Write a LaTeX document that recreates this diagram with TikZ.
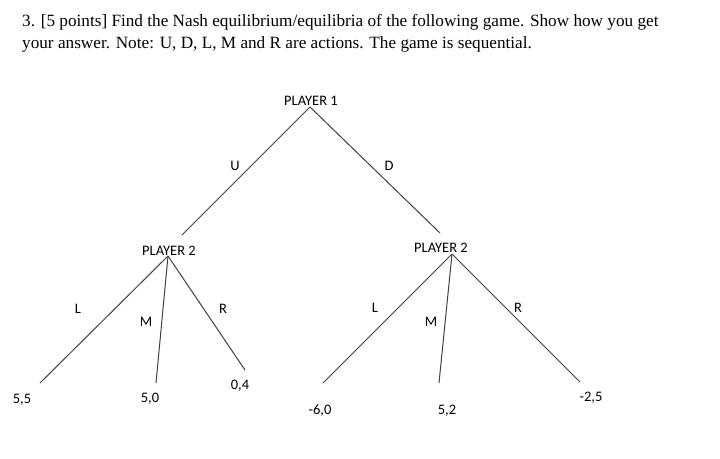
\documentclass[tikz,border=0pt]{standalone}
\usepackage{fontspec}
\setmainfont{Liberation Serif}
\newfontfamily\carlitofont{Carlito}
\begin{document}
\begin{tikzpicture}[x=1pt,y=-1pt,
  lab/.style={font=\carlitofont\fontsize{14.5}{16}\selectfont, inner sep=0pt},
  edge/.style={draw=black!75, line width=1pt},
  head/.style={font=\fontsize{17.2}{20}\selectfont, anchor=west, inner sep=0pt}]
\useasboundingbox[fill=white] (0,0) rectangle (720,458);
\node[head] (h1) at (22,22) {3. [5 points] Find the Nash equilibrium/equilibria of the following game. Show how you get};
\node[head] (h2) at (22,44) {your answer. Note: U, D, L, M and R are actions. The game is sequential.};
\coordinate (r) at (310,107);
\coordinate (a) at (168,256);
\coordinate (b) at (452,254);
\coordinate (ue) at (182,235);
\coordinate (de) at (440,233);
\coordinate (l1) at (40,383);
\coordinate (m1) at (156,383);
\coordinate (r1) at (245,370);
\coordinate (l2) at (323,383);
\coordinate (m2) at (439,383);
\coordinate (r2) at (580,382);
\draw[edge] (r) -- (ue);
\draw[edge] (r) -- (de);
\draw[edge] (a) -- (l1);
\draw[edge] (a) -- (m1);
\draw[edge] (a) -- (r1);
\draw[edge] (b) -- (l2);
\draw[edge] (b) -- (m2);
\draw[edge] (b) -- (r2);
\node[lab] (p1) at (311,101) {PLAYER 1};
\node[lab] (p2a) at (169,251) {PLAYER 2};
\node[lab] (p2b) at (441,248) {PLAYER 2};
\node[lab] (U) at (235,166) {U};
\node[lab] (D) at (389,166) {D};
\node[lab] (La) at (78,309) {L};
\node[lab] (Ma) at (146,322) {M};
\node[lab] (Ra) at (223,309) {R};
\node[lab] (Lb) at (375,308) {L};
\node[lab] (Mb) at (431,322) {M};
\node[lab] (Rb) at (518,308) {R};
\node[lab] (o1) at (22,400) {5,5};
\node[lab] (o2) at (150,399) {5,0};
\node[lab] (o3) at (240,386) {0,4};
\node[lab] (o4) at (320,411) {-6,0};
\node[lab] (o5) at (447,411) {5,2};
\node[lab] (o6) at (591,398) {-2,5};
\end{tikzpicture}
\end{document}
